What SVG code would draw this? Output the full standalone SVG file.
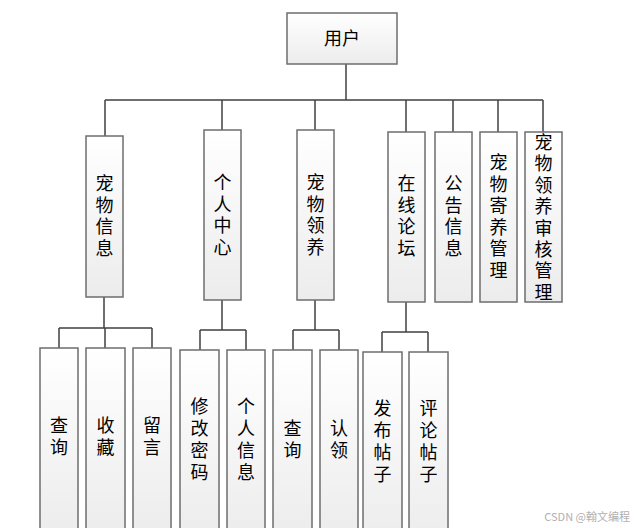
<svg xmlns="http://www.w3.org/2000/svg" width="636" height="528" viewBox="0 0 636 528">
<defs>
<linearGradient id="g" x1="0" y1="0" x2="0" y2="1"><stop offset="0" stop-color="#ffffff"/><stop offset="1" stop-color="#ececec"/></linearGradient>
<style>
rect{fill:url(#g);stroke:#6e6e6e;stroke-width:1.5}
text{font-family:"Noto Sans CJK SC",sans-serif;font-size:18px;fill:#000;text-anchor:middle}
.c path{fill:none;stroke:#404040;stroke-width:1.5}
</style>
</defs>
<rect x="0" y="0" width="636" height="528" style="fill:#fff;stroke:none"/>
<g class="c">
<path d="M346 64V100M105 100H543M105 100V136M222 100V130M315 100V130M406 100V132M453 100V132M498 100V132M543 100V132"/>
<path d="M104 297V328M59 328H152M59 328V348M105 328V348M152 328V348"/>
<path d="M222 300V330M200 330H246M200 330V350M246 330V350"/>
<path d="M315 300V330M293 330H339M293 330V350M339 330V350"/>
<path d="M406 302V332M382 332H428M382 332V352M428 332V352"/>
</g>
<g id="root"><rect x="287" y="13" width="110" height="51"/><text x="342" y="45">用户</text></g>
<g id="n1"><rect x="86" y="136" width="37" height="161"/><text><tspan x="104.5" y="190">宠</tspan><tspan x="104.5" dy="21.7">物</tspan><tspan x="104.5" dy="21.7">信</tspan><tspan x="104.5" dy="21.7">息</tspan></text></g>
<g id="n2"><rect x="204" y="130" width="37" height="170"/><text><tspan x="222.5" y="189">个</tspan><tspan x="222.5" dy="21.7">人</tspan><tspan x="222.5" dy="21.7">中</tspan><tspan x="222.5" dy="21.7">心</tspan></text></g>
<g id="n3"><rect x="297" y="130" width="37" height="170"/><text><tspan x="315.5" y="189">宠</tspan><tspan x="315.5" dy="21.7">物</tspan><tspan x="315.5" dy="21.7">领</tspan><tspan x="315.5" dy="21.7">养</tspan></text></g>
<g id="n4"><rect x="388" y="132" width="37" height="170"/><text><tspan x="406.5" y="190">在</tspan><tspan x="406.5" dy="21.7">线</tspan><tspan x="406.5" dy="21.7">论</tspan><tspan x="406.5" dy="21.7">坛</tspan></text></g>
<g id="n5"><rect x="435" y="132" width="37" height="170"/><text><tspan x="453.5" y="190">公</tspan><tspan x="453.5" dy="21.7">告</tspan><tspan x="453.5" dy="21.7">信</tspan><tspan x="453.5" dy="21.7">息</tspan></text></g>
<g id="n6"><rect x="480" y="132" width="37" height="170"/><text><tspan x="498.5" y="169">宠</tspan><tspan x="498.5" dy="21.6">物</tspan><tspan x="498.5" dy="21.6">寄</tspan><tspan x="498.5" dy="21.6">养</tspan><tspan x="498.5" dy="21.6">管</tspan><tspan x="498.5" dy="21.6">理</tspan></text></g>
<g id="n7"><rect x="525" y="132" width="37" height="170"/><text><tspan x="543.5" y="149">宠</tspan><tspan x="543.5" dy="21.4">物</tspan><tspan x="543.5" dy="21.4">领</tspan><tspan x="543.5" dy="21.4">养</tspan><tspan x="543.5" dy="21.4">审</tspan><tspan x="543.5" dy="21.4">核</tspan><tspan x="543.5" dy="21.4">管</tspan><tspan x="543.5" dy="21.4">理</tspan></text></g>
<g id="m1"><rect x="40" y="348" width="38" height="190"/><text><tspan x="59" y="432">查</tspan><tspan x="59" dy="22">询</tspan></text></g>
<g id="m2"><rect x="86" y="348" width="39" height="190"/><text><tspan x="105.5" y="432">收</tspan><tspan x="105.5" dy="22">藏</tspan></text></g>
<g id="m3"><rect x="133" y="348" width="38" height="190"/><text><tspan x="152" y="432">留</tspan><tspan x="152" dy="22">言</tspan></text></g>
<g id="m4"><rect x="180" y="350" width="39" height="190"/><text><tspan x="199.5" y="413">修</tspan><tspan x="199.5" dy="22">改</tspan><tspan x="199.5" dy="22">密</tspan><tspan x="199.5" dy="22">码</tspan></text></g>
<g id="m5"><rect x="227" y="350" width="38" height="190"/><text><tspan x="246" y="413">个</tspan><tspan x="246" dy="22">人</tspan><tspan x="246" dy="22">信</tspan><tspan x="246" dy="22">息</tspan></text></g>
<g id="m6"><rect x="273" y="350" width="39" height="190"/><text><tspan x="292.5" y="435">查</tspan><tspan x="292.5" dy="22">询</tspan></text></g>
<g id="m7"><rect x="320" y="350" width="38" height="190"/><text><tspan x="339" y="435">认</tspan><tspan x="339" dy="22">领</tspan></text></g>
<g id="m8"><rect x="363" y="352" width="39" height="190"/><text><tspan x="382.5" y="415">发</tspan><tspan x="382.5" dy="22">布</tspan><tspan x="382.5" dy="22">帖</tspan><tspan x="382.5" dy="22">子</tspan></text></g>
<g id="m9"><rect x="409" y="352" width="39" height="190"/><text><tspan x="428.5" y="415">评</tspan><tspan x="428.5" dy="22">论</tspan><tspan x="428.5" dy="22">帖</tspan><tspan x="428.5" dy="22">子</tspan></text></g>
<text x="630" y="521" style="font-size:11px;fill:#b0b0b0;text-anchor:end">CSDN @翰文编程</text>
</svg>
